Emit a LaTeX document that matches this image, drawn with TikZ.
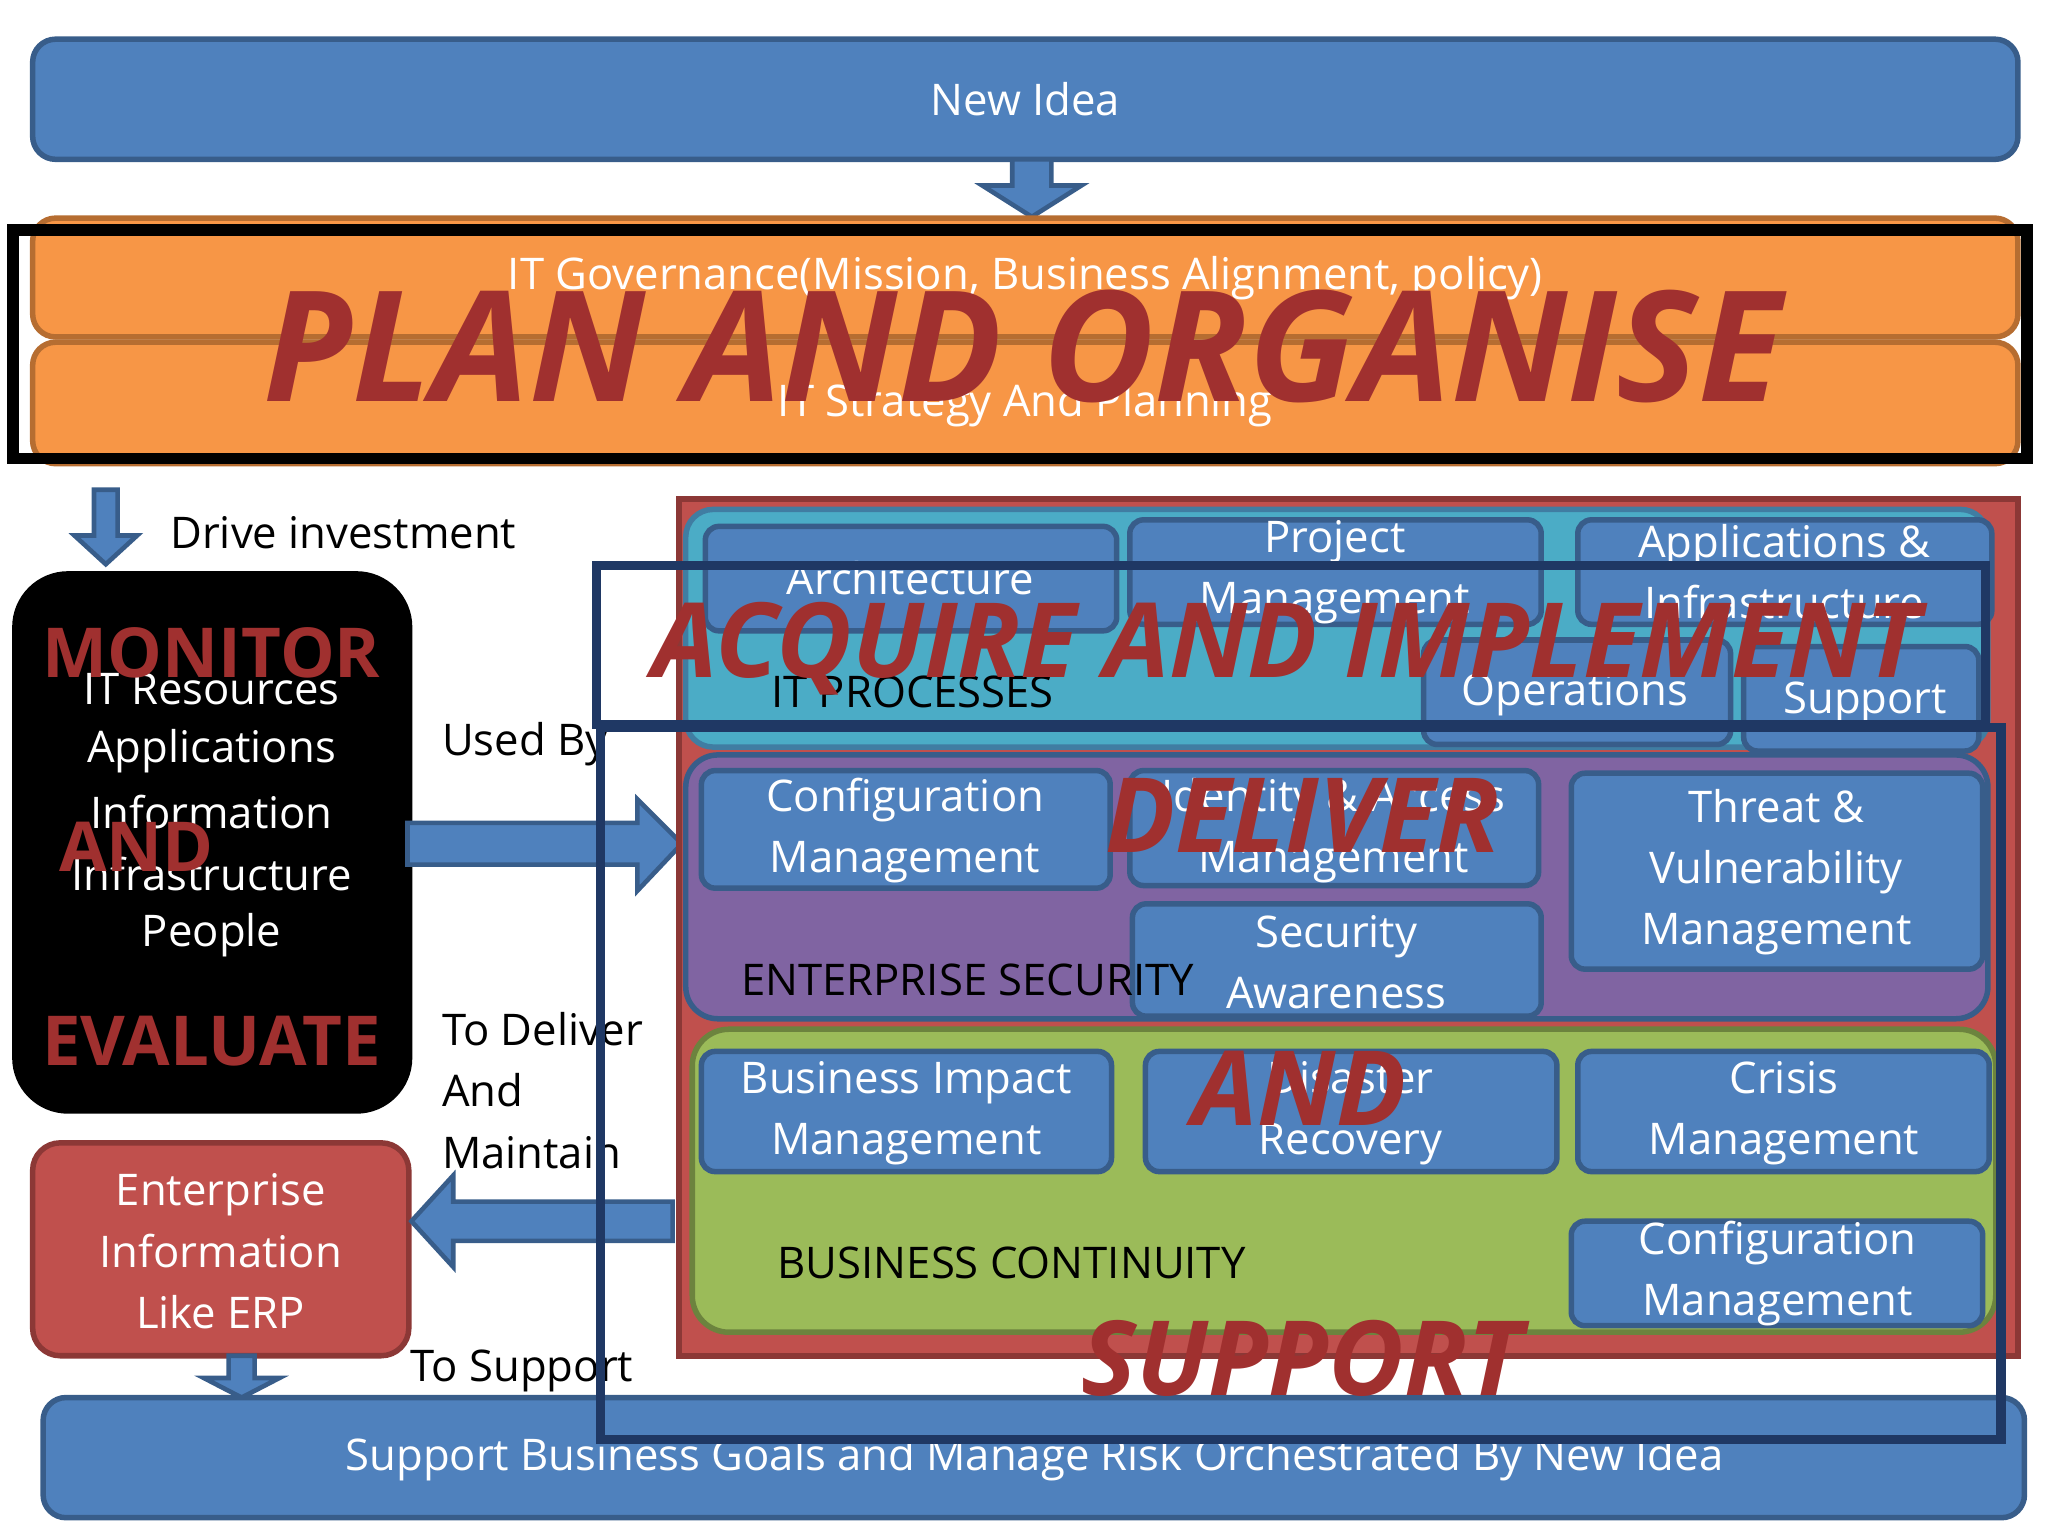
\documentclass[tikz,border=0pt]{standalone}
\usepackage{fontspec}
\setmainfont{Open Sans}
\usetikzlibrary{shapes.arrows}
\definecolor{bl}{HTML}{4F81BD}\definecolor{blb}{HTML}{385D8A}
\definecolor{org}{HTML}{F79646}\definecolor{orgb}{HTML}{B66D31}
\definecolor{rd}{HTML}{C0504D}\definecolor{rdb}{HTML}{8C3836}
\definecolor{tl}{HTML}{4BACC6}\definecolor{pu}{HTML}{8064A2}\definecolor{gr}{HTML}{9BBB59}
\definecolor{big}{HTML}{A0302F}\definecolor{nv}{HTML}{1F3864}
\tikzset{
 box/.style={draw=blb,line width=1.2pt,fill=bl,rounded corners=3pt},
 wt/.style={text=white,font=\fontsize{9.5}{13.3}\selectfont,align=center},
 bk/.style={text=black,font=\fontsize{9.5}{13.3}\selectfont},
 bigt/.style={text=big,font=\bfseries\itshape\fontsize{33.5}{34}\selectfont},
 midt/.style={text=big,font=\bfseries\itshape\fontsize{22.6}{23}\selectfont},
 mont/.style={text=big,font=\bfseries\fontsize{15}{16}\selectfont},
 arr/.style={fill=bl,draw=blb,line width=1pt},
}
\begin{document}
\begin{tikzpicture}[x=0.01cm,y=-0.01cm]
\useasboundingbox (0,0) rectangle (1568,1176);
% top
\draw[box,rounded corners=5pt] (25,30) rectangle (1545,122);
\node[wt] (ni) at (785,76) {New Idea};
\draw[arr] (775,122)--(805,122)--(805,142)--(828,142)--(790,166)--(752,142)--(775,142)--cycle;
\draw[draw=orgb,fill=org,line width=1.2pt,rounded corners=5pt] (25,167) rectangle (1545,258);
\draw[draw=orgb,fill=org,line width=1.2pt,rounded corners=5pt] (25,262) rectangle (1545,355);
\node[wt] (g) at (785,213) {IT Governance(Mission, Business Alignment, policy)};
\node[wt] (s) at (785,310) {IT Strategy And Planning};
\draw[line width=2.5pt] (10,176) rectangle (1552,351);
% left
\draw[arr] (72,375)--(90,375)--(90,410)--(105,410)--(81,432)--(57,410)--(72,410)--cycle;
\node[bk,anchor=west] (di) at (118,408) {Drive investment};
\draw[fill=black,rounded corners=12pt] (10,438) rectangle (315,852);
\foreach \t/\y in {IT Resources/528,Applications/575,Information/622,Infrastructure/669,People/716}
 \node[wt] at (162,\y) {\t};
\node[bk,anchor=west] (ub) at (326,570) {Used By};
\draw[arr] (312,630)--(488,630)--(488,612)--(522,646)--(488,682)--(488,662)--(312,662)--cycle;
\node[bk,anchor=west,align=left] (td) at (326,835) {To Deliver\\And\\Maintain};
\draw[draw=rdb,fill=rd,line width=1.2pt,rounded corners=6pt] (25,875) rectangle (313,1038);
\node[wt] (ent) at (169,958) {Enterprise\\Information\\Like ERP};
\draw[arr] (515,920)--(347,920)--(347,900)--(315,935)--(347,970)--(347,950)--(515,950)--cycle;
\draw[arr] (175,1038)--(195,1038)--(195,1055)--(214,1055)--(185,1070)--(156,1055)--(175,1055)--cycle;
\node[bk,anchor=west] (ts) at (302,1050) {To Support};
\draw[box,rounded corners=5pt] (33,1070) rectangle (1550,1162);
\node[wt] (sb) at (792,1117) {Support Business Goals and Manage Risk Orchestrated By New Idea};
% right
\draw[draw=rdb,fill=rd,line width=1.2pt] (520,382) rectangle (1545,1038);
\draw[draw=blb!60!tl,fill=tl,line width=1.2pt,rounded corners=6pt] (525,390) rectangle (1522,572);
\draw[box] (540,403) rectangle (855,483); \node[wt] at (697,443) {Architecture};
\draw[box] (865,398) rectangle (1180,478); \node[wt] at (1022,438) {Project\\Management};
\draw[box] (1208,398) rectangle (1525,478); \node[wt] at (1366,438) {Applications \&\\Infrastructure};
\draw[box] (1090,490) rectangle (1325,570); \node[wt] at (1206,532) {Operations};
\draw[box] (1335,495) rectangle (1515,575); \node[wt] at (1428,538) {Support};
\node[bk,anchor=west] at (578,530) {IT PROCESSES};
\draw[draw=blb,fill=pu,line width=1.2pt,rounded corners=7pt] (525,578) rectangle (1522,780);
\draw[box] (537,590) rectangle (850,680); \node[wt] at (693,636) {Configuration\\Management};
\draw[box] (865,590) rectangle (1178,678); \node[wt] at (1021,636) {Identity \& Access\\Management};
\draw[box] (1203,592) rectangle (1518,742); \node[wt] at (1360,668) {Threat \&\\Vulnerability\\Management};
\draw[box] (867,692) rectangle (1180,778); \node[wt] at (1023,737) {Security\\Awareness};
\node[bk,anchor=west] at (555,750) {ENTERPRISE SECURITY};
\draw[draw=gr!70!black,fill=gr,line width=1.2pt,rounded corners=8pt] (530,788) rectangle (1528,1020);
\draw[box] (537,805) rectangle (851,897); \node[wt] at (694,852) {Business Impact\\Management};
\draw[box] (877,805) rectangle (1192,897); \node[wt] at (1034,852) {Disaster\\Recovery};
\draw[box] (1208,805) rectangle (1523,897); \node[wt] at (1366,852) {Crisis\\Management};
\draw[box] (1203,935) rectangle (1518,1015); \node[wt] at (1361,975) {Configuration\\Management};
\node[bk,anchor=west] at (583,967) {BUSINESS CONTINUITY};
% frames
\draw[nv,line width=2pt] (457,433) rectangle (1520,555);
\draw[nv,line width=2pt] (460,557) rectangle (1532,1102);
% big labels
\node[bigt] at (783,265) {PLAN AND ORGANISE};
\node[midt] at (985,497) {ACQUIRE AND IMPLEMENT};
\node[midt] at (997,624) {DELIVER};
\node[midt] at (995,833) {AND};
\node[midt] at (997,1040) {SUPPORT};
\node[mont] at (162,500) {MONITOR};
\node[mont,anchor=west] at (33,648) {AND};
\node[mont] at (162,797) {EVALUATE};
\end{tikzpicture}
\end{document}
